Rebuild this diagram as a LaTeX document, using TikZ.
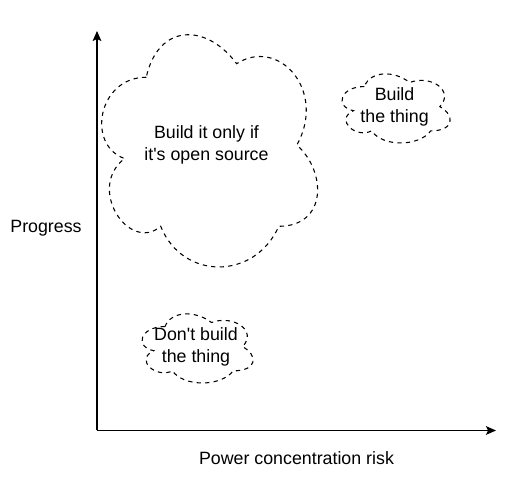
\documentclass[tikz,border=0pt]{standalone}
\usepackage{fontspec}
\setmainfont{Liberation Sans}
\usetikzlibrary{arrows.meta}
\tikzset{
  cloudline/.style={draw=black, line width=0.8pt, dash pattern=on 3.2pt off 3.2pt},
  lbl/.style={align=center, font=\fontsize{13.35pt}{16.5pt}\selectfont, inner sep=0pt},
  axis/.style={draw=black, line width=0.8pt, -{Stealth[length=7.5pt,width=6.5pt,inset=1.5pt]}}
}
\newcommand\mycloud[6]{%
\begin{scope}[shift={(#1,#2)}]
\draw[cloudline] (0.25*#3,0.25*#4) .. controls (0.05*#3,0.25*#4) and (0,0.5*#4) .. (0.16*#3,0.55*#4)
 .. controls (0,0.66*#4) and (0.18*#3,0.9*#4) .. (0.31*#3,0.8*#4)
 .. controls (0.4*#3,#4) and (0.7*#3,#4) .. (0.8*#3,0.8*#4)
 .. controls (#3,0.8*#4) and (#3,0.6*#4) .. (0.875*#3,0.5*#4)
 .. controls (#3,0.3*#4) and (0.8*#3,0.1*#4) .. (0.625*#3,0.2*#4)
 .. controls (0.5*#3,0.05*#4) and (0.3*#3,0.05*#4) .. (0.25*#3,0.25*#4) -- cycle;
\node[lbl] (#5) at (0.5*#3,0.5*#4) {#6};
\end{scope}}
\begin{document}
\begin{tikzpicture}[x=0.75pt, y=-0.75pt]
\useasboundingbox (0,0) rectangle (515,491);
\fill[white] (0,0) rectangle (515,491);
% axes
\coordinate (origin) at (97,430.5);
\coordinate (ytip) at (97,31);
\coordinate (xtip) at (496,430.5);
\draw[axis] (origin) -- (ytip);
\draw[axis] (origin) -- (xtip);
% axis labels
\node[lbl] (ylabel) at (46,228) {Progress};
\node[lbl] (xlabel) at (296.5,458) {Power concentration risk};
% clouds
\mycloud{86}{9.5}{241}{271}{open}{Build it only if\\it\textquotesingle s open source}
\mycloud{334.2}{66.4}{120.7}{80.6}{build}{Build\\the thing}
\mycloud{134}{306.4}{124}{80.6}{dont}{Don\textquotesingle t build\\the thing}
\end{tikzpicture}
\end{document}
